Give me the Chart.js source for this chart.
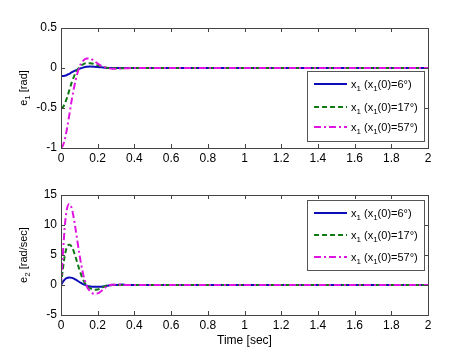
<!DOCTYPE html>
<html><head><meta charset="utf-8">
<script src="https://cdn.jsdelivr.net/npm/chart.js@4/dist/chart.umd.min.js"></script>
<style>
html,body{margin:0;padding:0;background:#fff;}
#wrap{position:relative;width:474px;height:355px;}
canvas{position:absolute;left:0;}
#c1{top:0;} #c2{top:177px;}
</style></head><body>
<div id="wrap"><canvas id="c1" width="474" height="177"></canvas><canvas id="c2" width="474" height="171"></canvas></div>
<script>
const time = [0,0.01,0.02,0.03,0.045,0.06,0.08,0.1,0.12,0.14,0.16,0.18,0.2,0.22,0.24,0.26,0.28,0.3,0.33,0.36,0.4,0.6,1,2];
const e1_6  = [-0.1,-0.099,-0.096,-0.09,-0.072,-0.053,-0.03,-0.01,0.005,0.015,0.018,0.017,0.013,0.008,0.004,0.001,0,-0.001,-0.001,0,0,0,0,0];
const e1_17 = [-0.5,-0.49,-0.45,-0.39,-0.28,-0.17,-0.06,0.01,0.045,0.06,0.06,0.05,0.035,0.02,0.008,0.001,-0.003,-0.003,-0.002,-0.001,0,0,0,0];
const e1_57 = [-1,-0.97,-0.9,-0.79,-0.59,-0.38,-0.15,0.01,0.09,0.12,0.115,0.09,0.055,0.025,0.008,-0.004,-0.009,-0.009,-0.006,-0.003,0,0,0,0];
const e2_6  = [0,0.5,0.9,1.15,1.25,1.18,0.88,0.5,0.15,-0.1,-0.25,-0.3,-0.3,-0.28,-0.2,-0.08,0,0.02,0.1,0,0,0,0,0];
const e2_17 = [0,2.6,4.8,6.1,6.7,6.3,4.6,2.6,0.9,-0.1,-0.55,-0.78,-0.75,-0.5,-0.2,0,0.03,0.02,0.01,0,0,0,0,0];
const e2_57 = [0,5,9.5,12.3,13.5,12.6,9.2,5.2,1.9,-0.2,-1.1,-1.45,-1.4,-1.0,-0.45,-0.05,0.05,0.04,0.02,0,0,0,0,0];
const xTicks = [0,0.2,0.4,0.6,0.8,1,1.2,1.4,1.6,1.8,2];
const y1Ticks = [-1,-0.5,0,0.5];
const y2Ticks = [-5,0,5,10,15];
const legendLabels = [
  [["x",0],["1",1],[" (x",0],["1",1],["(0)=6°)",0]],
  [["x",0],["1",1],[" (x",0],["1",1],["(0)=17°)",0]],
  [["x",0],["1",1],[" (x",0],["1",1],["(0)=57°)",0]]
];
const yTitle1 = [["e",0],["1",1],[" [rad]",0]];
const yTitle2 = [["e",0],["2",1],[" [rad/sec]",0]];

const COLORS = ['#0c0cb8','#0f7a14','#e014e0'];
const DASHES = [[],[5,3],[7,3,2,3]];
const FONT = '"Liberation Sans", Arial, sans-serif';

function pts(ys){ return time.map((t,i)=>({x:t,y:ys[i]})); }
function fmt(v){ return String(Math.round(v*10)/10); }

function drawRich(ctx, segs, x, y, size){
  let cx = x;
  ctx.textBaseline = 'alphabetic';
  ctx.textAlign = 'left';
  for (const [s,sub] of segs){
    ctx.font = (sub? (size-3):size) + 'px ' + FONT;
    ctx.fillText(s, cx, y + (sub? 3:0));
    cx += ctx.measureText(s).width;
  }
  return cx - x;
}
function richWidth(ctx, segs, size){
  let w=0;
  for (const [s,sub] of segs){ ctx.font=(sub?(size-3):size)+'px '+FONT; w+=ctx.measureText(s).width; }
  return w;
}

const matlabPlugin = {
  id:'matlab',
  afterDatasetsDraw(chart, args, opts){
    const ctx = chart.ctx, a = chart.chartArea;
    const xs = chart.scales.x, ys = chart.scales.y;
    ctx.save();
    ctx.strokeStyle = '#444'; ctx.lineWidth = 1; ctx.setLineDash([]);
    ctx.beginPath();
    const L=4;
    for (const v of xTicks){
      const px = Math.round(xs.getPixelForValue(v))+0.5;
      ctx.moveTo(px,a.bottom); ctx.lineTo(px,a.bottom-L);
      ctx.moveTo(px,a.top); ctx.lineTo(px,a.top+L);
    }
    for (const v of opts.yt){
      const py = Math.round(ys.getPixelForValue(v))+0.5;
      ctx.moveTo(a.left,py); ctx.lineTo(a.left+L,py);
      ctx.moveTo(a.right,py); ctx.lineTo(a.right-L,py);
    }
    ctx.stroke();
    ctx.strokeRect(Math.round(a.left)+0.5, Math.round(a.top)+0.5, Math.round(a.right-a.left), Math.round(a.bottom-a.top));
    // legend
    const lg = opts.legend;
    ctx.fillStyle='#fff';
    ctx.fillRect(lg.x, lg.y, lg.w, lg.h);
    ctx.strokeStyle='#555';
    ctx.strokeRect(lg.x+0.5, lg.y+0.5, lg.w, lg.h);
    for (let i=0;i<3;i++){
      const yy = lg.y + lg.rows[i];
      ctx.strokeStyle = COLORS[i]; ctx.lineWidth=2; ctx.setLineDash(DASHES[i]);
      ctx.beginPath(); ctx.moveTo(lg.x+7, yy); ctx.lineTo(lg.x+40, yy); ctx.stroke();
      ctx.setLineDash([]);
      ctx.fillStyle='#000';
      drawRich(ctx, legendLabels[i], lg.x+44, yy+4, 11);
    }
    // y title
    ctx.save();
    ctx.translate(opts.titleX, (a.top+a.bottom)/2);
    ctx.rotate(-Math.PI/2);
    ctx.fillStyle='#000';
    const w = richWidth(ctx, opts.title, 11);
    drawRich(ctx, opts.title, -w/2, 0, 11);
    ctx.restore();
    ctx.restore();
  }
};

function makeChart(id, ys, ymin, ymax, ystep, yt, padTop, xH, legend, title, showXTitle){
  const ds = ys.map((arr,i)=>({
    data: pts(arr), borderColor: COLORS[i], borderWidth: 2, borderDash: DASHES[i],
    pointRadius: 0, tension: 0.4, cubicInterpolationMode:'monotone', fill:false,
    order: 2 - i
  }));
  return new Chart(document.getElementById(id), {
    type:'line',
    data:{datasets: ds},
    plugins:[matlabPlugin],
    options:{
      responsive:false, animation:false,
      layout:{padding:{top:padTop, right:46, left:0, bottom:0}},
      plugins:{legend:{display:false}, tooltip:{enabled:false},
        matlab:{yt:yt, legend:legend, title:title, titleX:27}},
      scales:{
        x:{type:'linear', min:0, max:2, grid:{display:false, drawTicks:false, tickLength:0}, border:{display:false},
          afterBuildTicks(s){ s.ticks = xTicks.map(v=>({value:v})); },
          ticks:{color:'#000', font:{family:FONT, size:12}, padding:3, maxRotation:0, autoSkip:false, callback:v=>fmt(v)},
          title:{display:showXTitle, text:'Time [sec]', color:'#000', font:{family:FONT,size:12}, padding:{top:0,bottom:0}},
          afterFit(s){ s.height = xH; }
        },
        y:{min:ymin, max:ymax, grid:{display:false, drawTicks:false, tickLength:0}, border:{display:false},
          afterBuildTicks(s){ s.ticks = yt.map(v=>({value:v})); },
          ticks:{color:'#000', font:{family:FONT, size:12}, padding:4, callback:v=>fmt(v)},
          afterFit(s){ s.width = 61; }
        }
      }
    }
  });
}

makeChart('c1', [e1_6,e1_17,e1_57], -1, 0.5, 0.5, y1Ticks, 28, 29,
  {x:307,y:71,w:117,h:70,rows:[13,36,56]}, yTitle1, false);
makeChart('c2', [e2_6,e2_17,e2_57], -5, 15, 5, y2Ticks, 18, 33,
  {x:307,y:23,w:117,h:70,rows:[13,35,57]}, yTitle2, true);
</script>
</body></html>
